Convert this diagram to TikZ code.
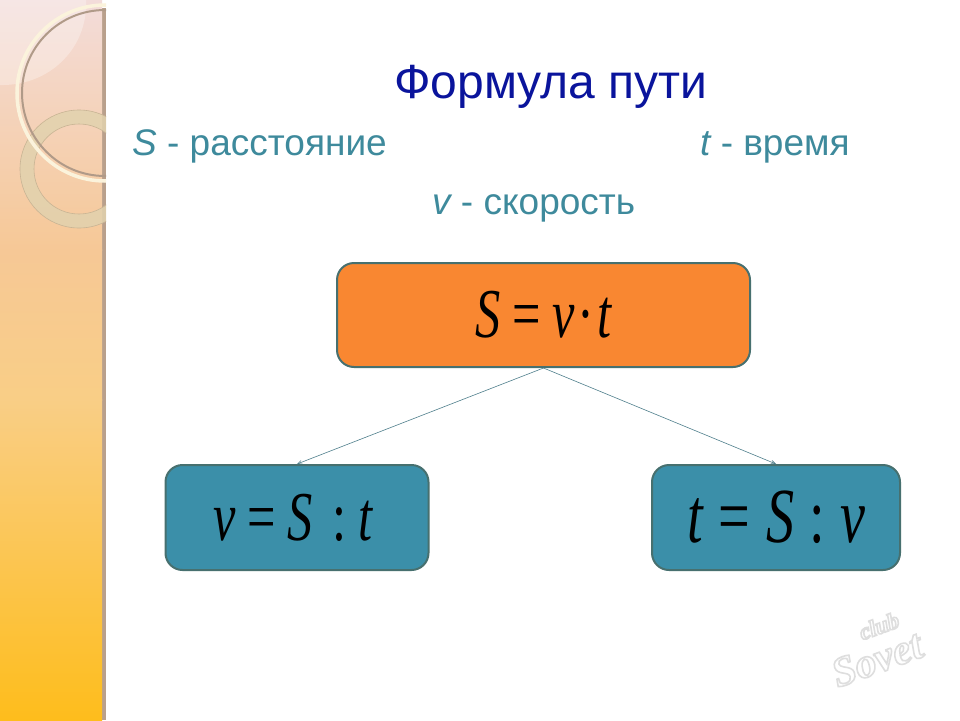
\documentclass[tikz,border=0pt]{standalone}
\usepackage{fontspec}
\setmainfont{Liberation Sans}
\newfontfamily\formulafont[FakeStretch=0.72]{Liberation Serif}
\newfontfamily\markfont{Liberation Serif}
\usetikzlibrary{arrows,positioning}
\definecolor{stripedge}{HTML}{B9A08C}
\definecolor{stripetop}{HTML}{F3DCDA}
\definecolor{stripeupper}{HTML}{F6C896}
\definecolor{stripemid}{HTML}{F9CE86}
\definecolor{stripebottom}{HTML}{FEBD1C}
\definecolor{ringfill}{HTML}{E2D2AE}
\definecolor{ringedge}{HTML}{C8B494}
\definecolor{arclight}{HTML}{FBF3DC}
\definecolor{arcdark}{HTML}{B09A88}
\definecolor{titleblue}{HTML}{0A149C}
\definecolor{labelteal}{HTML}{3E8A9C}
\definecolor{boxorange}{HTML}{F98731}
\definecolor{boxteal}{HTML}{3B8FA9}
\definecolor{boxedge}{HTML}{47706F}
\definecolor{lineteal}{HTML}{4F7F8C}
\newcommand{\fvar}[1]{{\itshape #1}}
\newcommand{\outlined}{\special{pdf:literal 2 Tr 1.6 w 0.87 G 1 g}}
\tikzset{
	formulabox/.style={draw=boxedge,line width=2pt,rounded corners=17pt,align=center,inner sep=0pt,
		font=\formulafont\fontsize{70}{72}\selectfont,text=black},
	labeltext/.style={anchor=base west,inner sep=0pt,text=labelteal,font=\fontsize{37}{42}\selectfont},
	marktext/.style={rotate=20,inner sep=0pt,font=\markfont\bfseries\itshape\fontsize{#1}{#1}\selectfont}
}
\begin{document}
\begin{tikzpicture}[x=1pt,y=-1pt,
	level 1/.style={sibling distance=480pt,level distance=202.5pt},
	parent anchor=south,child anchor=north,
	edge from parent/.style={draw=lineteal,line width=0.6pt,->,>=angle 45}]
\useasboundingbox (0,0) rectangle (960,720);
\fill[white] (0,0) rectangle (960,720);
\fill[stripedge] (102,8) rectangle (106,720);
\shade[top color=stripetop,bottom color=stripeupper] (0,0) rectangle (102,250);
\shade[top color=stripeupper,bottom color=stripemid] (0,249.5) rectangle (102,400);
\shade[top color=stripemid,bottom color=stripebottom] (0,399.5) rectangle (102,720);
\fill[white,opacity=0.3] (0,0) -- (86,0) -- (86,8) .. controls (84,50) and (50,84) .. (4,85) -- (0,85) -- cycle;
\begin{scope}
	\clip (0,0) rectangle (106,720);
	\draw[draw=ringedge,line width=0.6pt,fill=ringfill,fill opacity=0.85,even odd rule]
		(79,169) circle (59) (79,169) circle (45);
	\draw[arclight,line width=3.5pt] (105,93) circle (88);
	\draw[arcdark,line width=2pt] (105,93) circle (83);
\end{scope}
\node[anchor=base,inner sep=0pt,text=titleblue,font=\fontsize{48}{54}\selectfont] (title) at (551,98) {Формула пути};
\node[labeltext] (distlabel) at (132,155) {\fvar{S} - расстояние};
\node[labeltext] (timelabel) at (700,155) {\fvar{t} - время};
\node[labeltext] (speedlabel) at (432,214) {\fvar{v} - скорость};
\node[formulabox,fill=boxorange,minimum width=413pt,minimum height=104pt] (stv) at (543.5,315) {\fvar{S}\,=\,\fvar{v}\hspace{2.5pt}·\hspace{2.5pt}\fvar{t}}
	child[xshift=-6.5pt] { node[formulabox,fill=boxteal,minimum width=263pt,minimum height=105pt] (vst) {\fvar{v}\,=\,\fvar{S}\;:\,\fvar{t}\hspace{8pt}}
	}
	child[xshift=-7.5pt] { node[formulabox,fill=boxteal,minimum width=248pt,minimum height=105pt,font=\formulafont\fontsize{78}{80}\selectfont] (tsv) {\fvar{t}\hspace{16pt}=\hspace{16pt}\fvar{S}\hspace{15pt}:\hspace{15pt}\fvar{v}}
	}
;
\node[marktext=23] (markclub) at (879,626) {\outlined club};
\node[marktext=42] (marksovet) at (877,659) {\outlined Sovet};
\end{tikzpicture}
\end{document}
